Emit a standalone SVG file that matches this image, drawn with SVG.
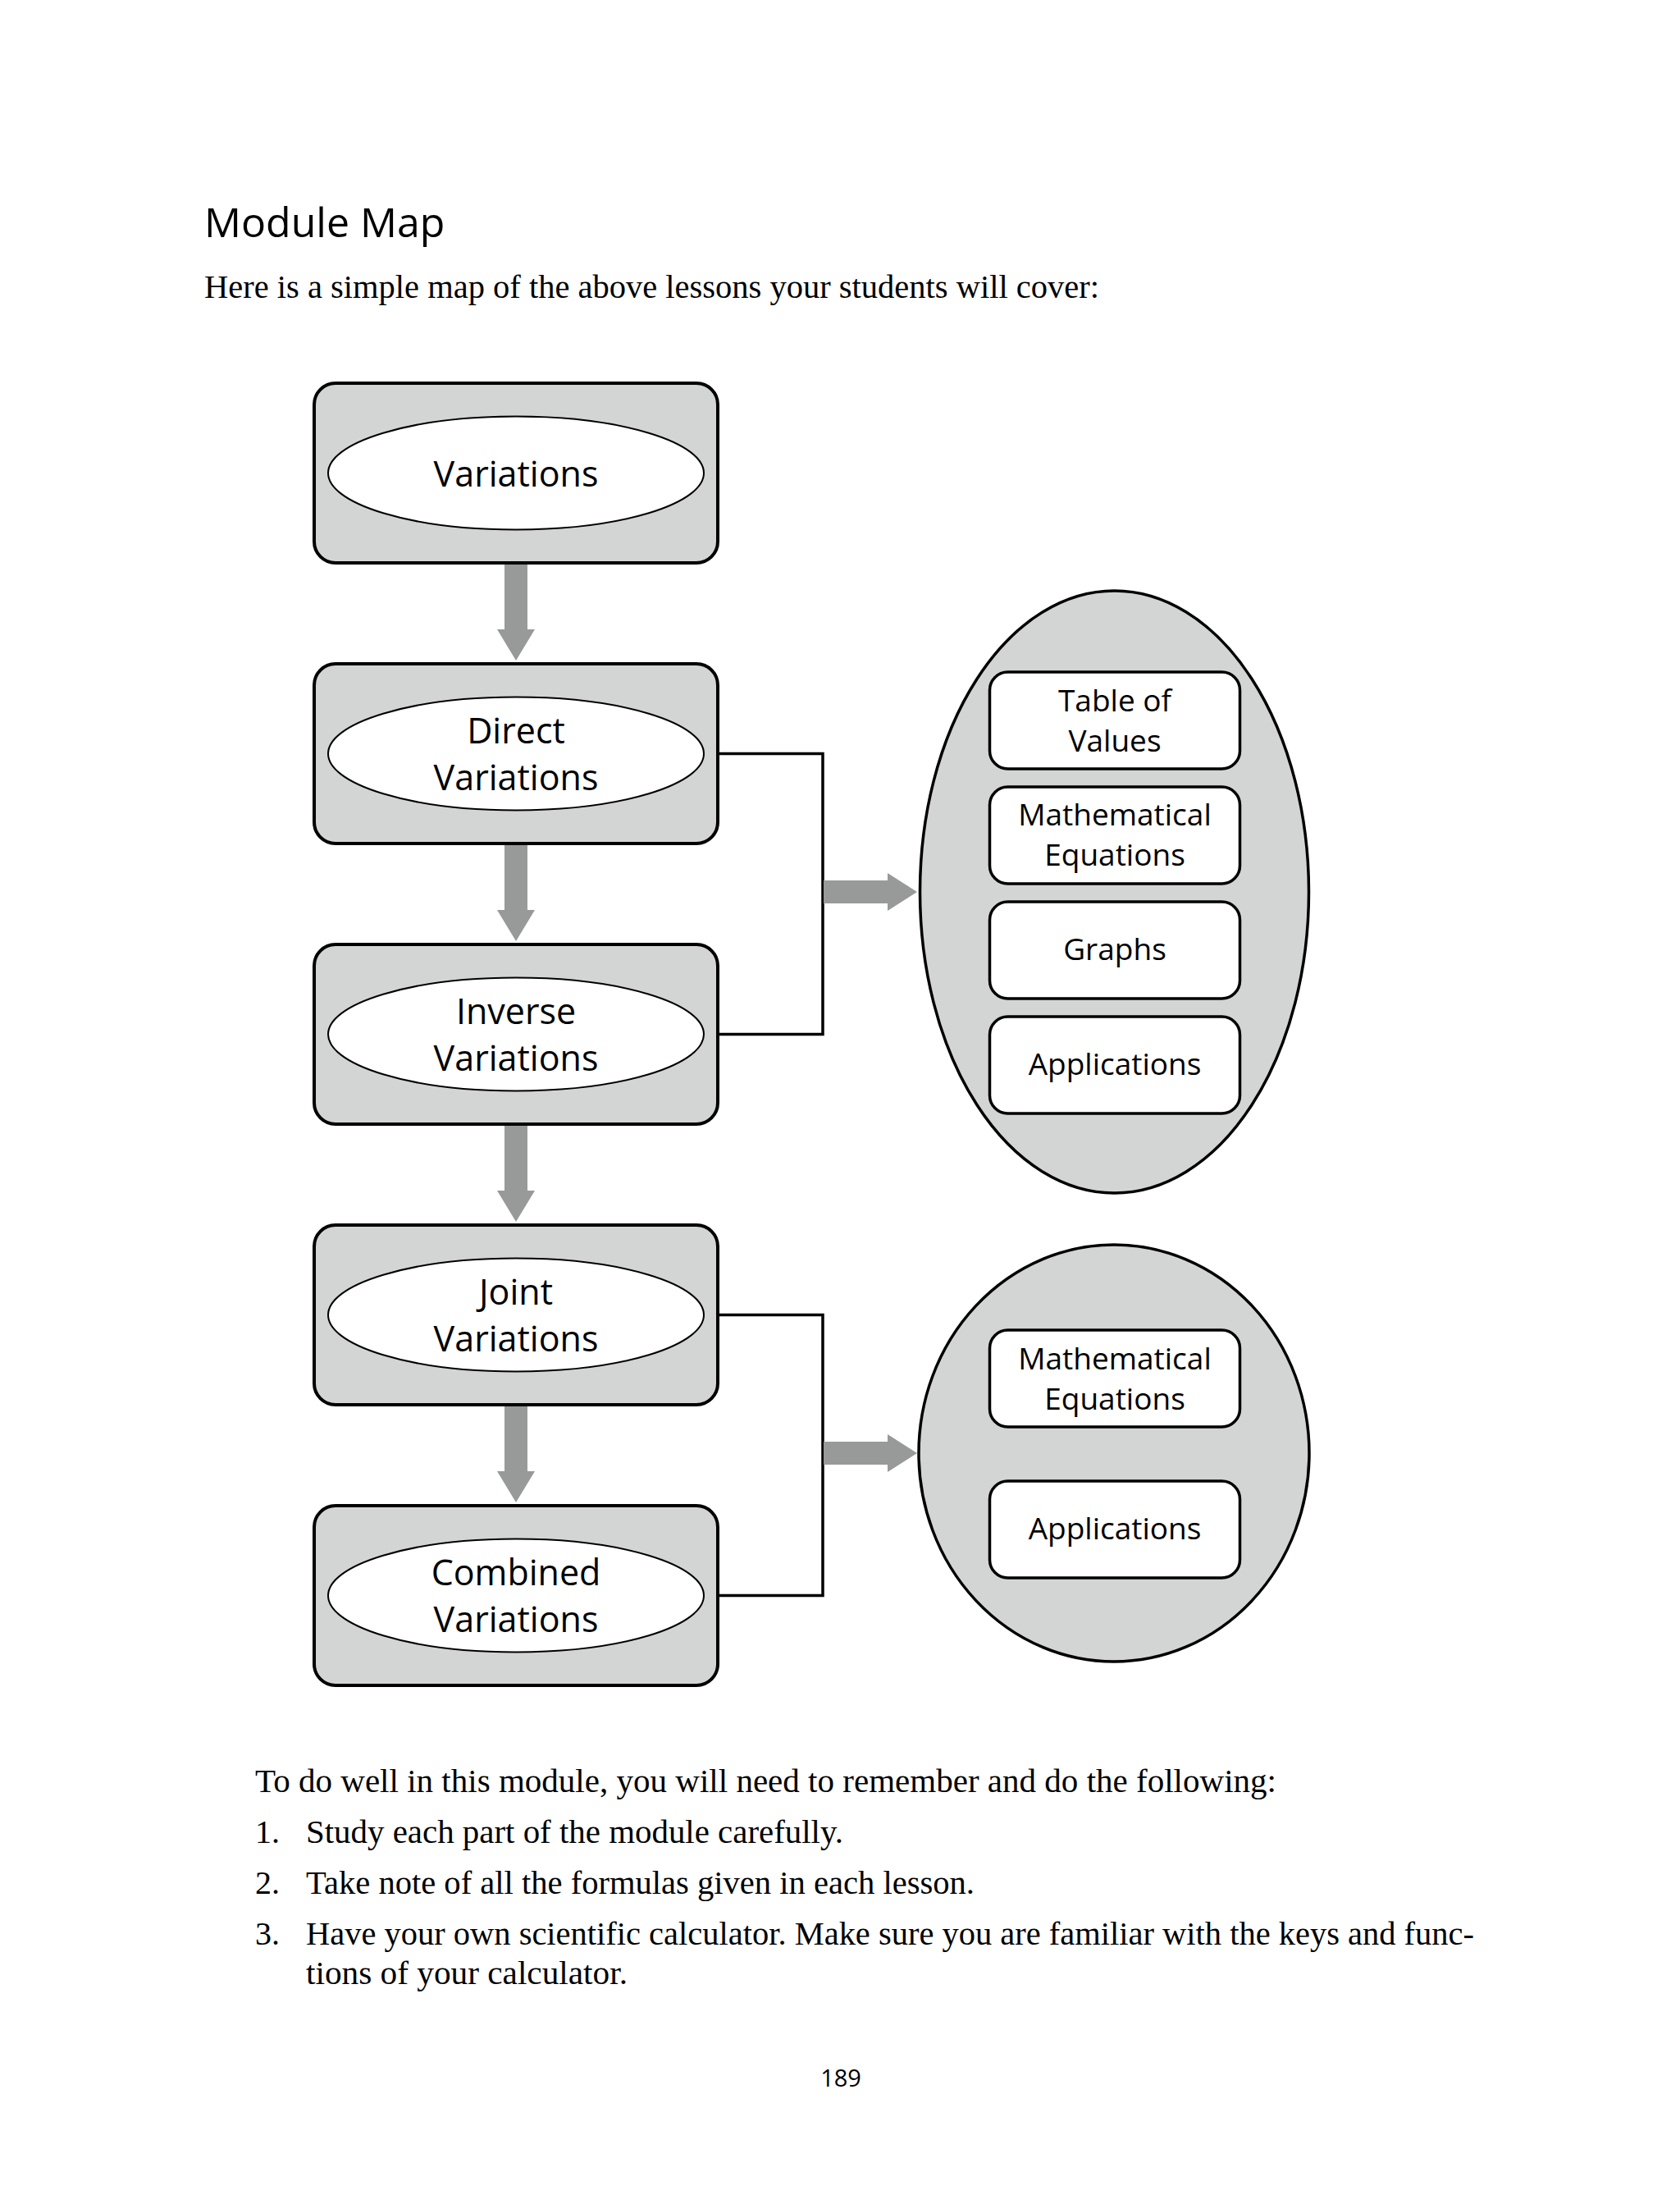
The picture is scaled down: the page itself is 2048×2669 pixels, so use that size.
<svg xmlns="http://www.w3.org/2000/svg" xmlns:xlink="http://www.w3.org/1999/xlink" width="2048" height="2669" viewBox="0 0 2048 2669">
<style>
.page{fill:#ffffff}
.box{fill:#d3d5d4;stroke:#000;stroke-width:4}
.oval{fill:#ffffff;stroke:#000;stroke-width:2}
.big{fill:#d3d5d4;stroke:#000;stroke-width:3.5}
.item{fill:#ffffff;stroke:#000;stroke-width:3.5}
.bracket{fill:none;stroke:#000;stroke-width:3.5}
.garrow{fill:#979a99}
.lbl{font-family:"Open Sans","DejaVu Sans",sans-serif;font-size:43px;fill:#000;text-anchor:middle}
.ilbl{font-family:"Open Sans","DejaVu Sans",sans-serif;font-size:37px;fill:#000;text-anchor:middle}
.title{font-family:"Open Sans","DejaVu Sans",sans-serif;font-size:50px;fill:#000}
.body{font-family:"Liberation Serif","Times New Roman",serif;font-size:40px;fill:#000}
.pnum{font-family:"Open Sans","DejaVu Sans",sans-serif;font-size:29px;fill:#000;text-anchor:middle}
</style>
<defs>
<polygon id="downArrow" class="garrow" points="615,688 643,688 643,767 652,767 629,805 606,767 615,767"/>
<polygon id="rightArrow" class="garrow" points="1004,1073 1082,1073 1082,1064 1118,1087 1082,1110 1082,1101 1004,1101"/>
</defs>
<rect class="page" x="0" y="0" width="2048" height="2669"/>

<g id="header">
<text class="title" x="249" y="289">Module Map</text>
<text class="body" x="249" y="363" textLength="1091" lengthAdjust="spacingAndGlyphs">Here is a simple map of the above lessons your students will cover:</text>
</g>

<g id="connectors">
<use xlink:href="#downArrow"/>
<use xlink:href="#downArrow" transform="translate(0,342)"/>
<use xlink:href="#downArrow" transform="translate(0,684)"/>
<use xlink:href="#downArrow" transform="translate(0,1026)"/>
<polyline class="bracket" points="877,918.5 1003,918.5 1003,1260.5 877,1260.5"/>
<polyline class="bracket" points="877,1602.5 1003,1602.5 1003,1944.5 877,1944.5"/>
<use xlink:href="#rightArrow"/>
<use xlink:href="#rightArrow" transform="translate(0,684)"/>
</g>

<g id="node-variations">
<rect class="box" x="383" y="467" width="492" height="219" rx="26"/>
<ellipse class="oval" cx="629" cy="576.5" rx="229" ry="69"/>
<text class="lbl" x="629" y="593">Variations</text>
</g>

<g id="node-direct">
<rect class="box" x="383" y="809" width="492" height="219" rx="26"/>
<ellipse class="oval" cx="629" cy="918.5" rx="229" ry="69"/>
<text class="lbl" x="629" y="906">Direct</text>
<text class="lbl" x="629" y="963">Variations</text>
</g>

<g id="node-inverse">
<rect class="box" x="383" y="1151" width="492" height="219" rx="26"/>
<ellipse class="oval" cx="629" cy="1260.5" rx="229" ry="69"/>
<text class="lbl" x="629" y="1248">Inverse</text>
<text class="lbl" x="629" y="1305">Variations</text>
</g>

<g id="node-joint">
<rect class="box" x="383" y="1493" width="492" height="219" rx="26"/>
<ellipse class="oval" cx="629" cy="1602.5" rx="229" ry="69"/>
<text class="lbl" x="629" y="1590">Joint</text>
<text class="lbl" x="629" y="1647">Variations</text>
</g>

<g id="node-combined">
<rect class="box" x="383" y="1835" width="492" height="219" rx="26"/>
<ellipse class="oval" cx="629" cy="1944.5" rx="229" ry="69"/>
<text class="lbl" x="629" y="1932">Combined</text>
<text class="lbl" x="629" y="1989">Variations</text>
</g>

<g id="node-topics1">
<ellipse class="big" cx="1358.5" cy="1087" rx="237" ry="367"/>
<g id="topic-table">
<rect class="item" x="1206.5" y="819" width="305" height="118" rx="22"/>
<text class="ilbl" x="1359" y="867">Table of</text>
<text class="ilbl" x="1359" y="916">Values</text>
</g>
<g id="topic-equations1">
<rect class="item" x="1206.5" y="959" width="305" height="118" rx="22"/>
<text class="ilbl" x="1359" y="1006">Mathematical</text>
<text class="ilbl" x="1359" y="1055">Equations</text>
</g>
<g id="topic-graphs">
<rect class="item" x="1206.5" y="1099" width="305" height="118" rx="22"/>
<text class="ilbl" x="1359" y="1170">Graphs</text>
</g>
<g id="topic-applications1">
<rect class="item" x="1206.5" y="1239" width="305" height="118" rx="22"/>
<text class="ilbl" x="1359" y="1310">Applications</text>
</g>
</g>

<g id="node-topics2">
<ellipse class="big" cx="1358" cy="1771" rx="238" ry="254"/>
<g id="topic-equations2">
<rect class="item" x="1206.5" y="1621" width="305" height="118" rx="22"/>
<text class="ilbl" x="1359" y="1669">Mathematical</text>
<text class="ilbl" x="1359" y="1718">Equations</text>
</g>
<g id="topic-applications2">
<rect class="item" x="1206.5" y="1805" width="305" height="118" rx="22"/>
<text class="ilbl" x="1359" y="1876">Applications</text>
</g>
</g>

<g id="footer-text">
<text class="body" x="311" y="2184" textLength="1245" lengthAdjust="spacingAndGlyphs">To do well in this module, you will need to remember and do the following:</text>
<text class="body" x="311" y="2246">1.</text>
<text class="body" x="373" y="2246" textLength="655" lengthAdjust="spacingAndGlyphs">Study each part of the module carefully.</text>
<text class="body" x="311" y="2308">2.</text>
<text class="body" x="373" y="2308" textLength="815" lengthAdjust="spacingAndGlyphs">Take note of all the formulas given in each lesson.</text>
<text class="body" x="311" y="2370">3.</text>
<text class="body" x="373" y="2370" textLength="1424" lengthAdjust="spacingAndGlyphs">Have your own scientific calculator. Make sure you are familiar with the keys and func-</text>
<text class="body" x="373" y="2418" textLength="392" lengthAdjust="spacingAndGlyphs">tions of your calculator.</text>
<text class="pnum" x="1025" y="2543">189</text>
</g>
</svg>
